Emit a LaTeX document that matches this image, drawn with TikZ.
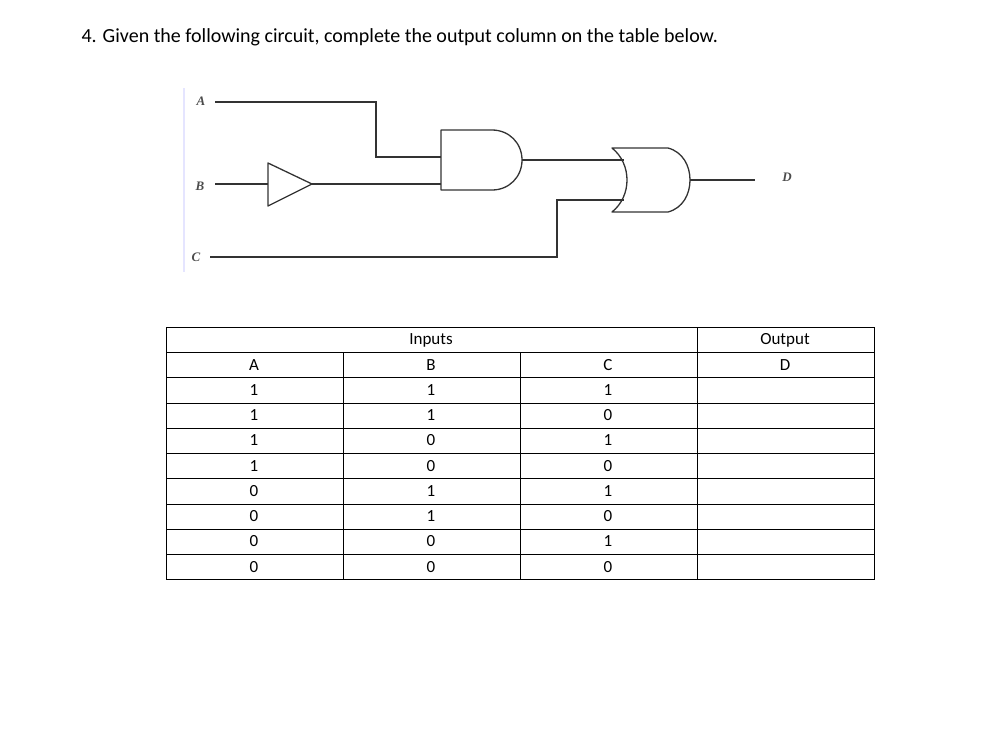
\documentclass[tikz,border=0pt]{standalone}
\usepackage{fontspec}
\setmainfont{Carlito}
\newfontfamily\lblfont{Liberation Serif}
\begin{document}
\begin{tikzpicture}[x=1pt,y=-1pt,
  wire/.style={line width=1.3pt,color=black!80},
  gate/.style={line width=1.3pt,color=black!80,line join=round},
  lbl/.style={font=\lblfont\fontsize{13}{13}\selectfont\itshape\bfseries,color=black!70},
  cell/.style={font=\fontsize{17}{17}\selectfont,anchor=center}]
\useasboundingbox (0,0) rectangle (981,729);
\node[anchor=west,font=\fontsize{20}{20}\selectfont] (title) at (78,37) {4. Given the following circuit, complete the output column on the table below.};
% faint margin line
\draw[color=blue!10,line width=1.5pt] (184,88) -- (184,272);
% labels
\node[lbl] (la) at (201,101) {A};
\node[lbl] (lb) at (200,186) {B};
\node[lbl] (lc) at (196,257) {C};
\node[lbl] (ld) at (787,177) {D};
% coordinates
\coordinate (a0) at (215,102);
\coordinate (b0) at (215,184);
\coordinate (c0) at (210,257);
\coordinate (bufin) at (268,184);
\coordinate (bufout) at (312,184);
\coordinate (and1) at (441,157);
\coordinate (and2) at (441,184);
\coordinate (andout) at (522,160);
\coordinate (or1) at (624,160);
\coordinate (or2) at (624,200);
\coordinate (orout) at (690,180);
\coordinate (d0) at (755,180);
% buffer
\draw[gate] (268,163) -- (312,184) -- (268,206) -- cycle;
% AND gate
\draw[gate] (441,130) -- (492,130) .. controls (509,130) and (522,143) .. (522,160)
  .. controls (522,177) and (509,190) .. (492,190) -- (441,190) -- cycle;
% OR gate
\draw[gate] (612,148) -- (668,148) .. controls (683,152) and (690,166) .. (690,180)
  .. controls (690,194) and (683,208) .. (668,212) -- (612,212)
  .. controls (632,196) and (632,164) .. cycle;
% wires
\draw[wire] (a0) -| (376,157) -- (and1);
\draw[wire] (b0) -- (bufin);
\draw[wire] (bufout) -- (and2);
\draw[wire] (andout) -- (or1);
\draw[wire] (c0) -| (557,200) -- (or2);
\draw[wire] (orout) -- (d0);
% table
\draw[line width=0.8pt] (166,327) rectangle (874,579);
\draw[line width=0.8pt] (697,327) -- (697,579);
\foreach \x in {343,520} \draw[line width=0.8pt] (\x,352) -- (\x,579);
\foreach \y in {352,377,403,428,453,478,504,529,554} \draw[line width=0.8pt] (166,\y) -- (874,\y);
\node[cell] (hin) at (431,340) {Inputs};
\node[cell] (hout) at (785,340) {Output};
\node[cell] (ha) at (254,365) {A};
\node[cell] (hb) at (431,365) {B};
\node[cell] (hc) at (608,365) {C};
\node[cell] (hd) at (785,365) {D};
\foreach \a/\b/\c [count=\i from 0] in {1/1/1,1/1/0,1/0/1,1/0/0,0/1/1,0/1/0,0/0/1,0/0/0}{
  \pgfmathsetmacro\yy{390+25.25*\i}
  \node[cell] (ra\i) at (254,\yy) {\a};
  \node[cell] (rb\i) at (431,\yy) {\b};
  \node[cell] (rc\i) at (608,\yy) {\c};
}
\end{tikzpicture}
\end{document}
